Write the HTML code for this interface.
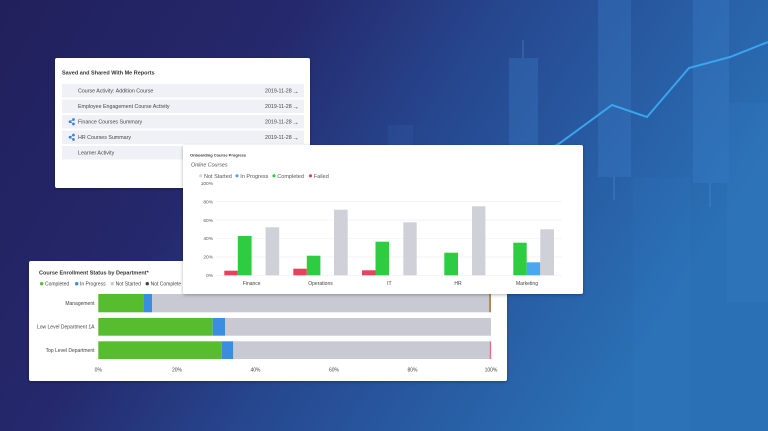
<!DOCTYPE html>
<html><head><meta charset="utf-8">
<style>
html,body{margin:0;padding:0;width:768px;height:431px;overflow:hidden;background:#24246a;}
svg{display:block;font-family:"Liberation Sans",sans-serif;}
</style></head>
<body>
<svg width="768" height="431" viewBox="0 0 768 431" xmlns="http://www.w3.org/2000/svg">
<defs>
<linearGradient id="bg" x1="0" y1="0" x2="1" y2="0.35">
<stop offset="0" stop-color="#21205c"/>
<stop offset="0.35" stop-color="#25286c"/>
<stop offset="0.6" stop-color="#264890"/>
<stop offset="0.8" stop-color="#285ca3"/>
<stop offset="1" stop-color="#2a70b4"/>
</linearGradient>
<filter id="sh" x="-5%" y="-5%" width="110%" height="115%">
<feDropShadow dx="0" dy="1" stdDeviation="1.5" flood-color="#000" flood-opacity="0.3"/>
</filter>
</defs>
<rect width="768" height="431" fill="url(#bg)"/>
<!-- background candles -->
<g fill="#3f86d0" opacity="0.28">
<rect x="388" y="125" width="25" height="30" opacity="0.4"/>
<rect x="509" y="58" width="29" height="150"/>
<rect x="598" y="0" width="33" height="177"/>
<rect x="693" y="0" width="36" height="183"/>
<rect x="727" y="103" width="41" height="200" opacity="0.5"/>
<rect x="633" y="177" width="57" height="254" opacity="0.3"/>
</g>
<g stroke="#4a8fd8" stroke-width="1.2" opacity="0.5">
<line x1="523" y1="40" x2="523" y2="58"/>
<line x1="614" y1="177" x2="614" y2="200"/>
<line x1="710" y1="183" x2="710" y2="207"/>
</g>
<polyline points="545,152 560,143 612,105 647,117 689,68 730,57 768,42" fill="none" stroke="#3aa4ec" stroke-width="2"/>

<!-- Card 1 -->
<g filter="url(#sh)"><rect x="55" y="58" width="255" height="130" rx="2" fill="#fff"/></g>
<text x="62" y="74.5" font-size="5.5" font-weight="bold" fill="#333">Saved and Shared With Me Reports</text>
<g fill="#f0f1f6">
<rect x="62" y="84" width="242" height="13.5"/>
<rect x="62" y="99.5" width="242" height="13.5"/>
<rect x="62" y="115" width="242" height="13.5"/>
<rect x="62" y="130.5" width="242" height="13.5"/>
<rect x="62" y="146" width="242" height="13.5"/>
</g>
<g font-size="5.3" fill="#444">
<text x="78" y="92.7">Course Activity: Addition Course</text>
<text x="78" y="108.2">Employee Engagement Course Activity</text>
<text x="78" y="123.7">Finance Courses Summary</text>
<text x="78" y="139.2">HR Courses Summary</text>
<text x="78" y="154.7">Learner Activity</text>
<text x="265" y="92.7">2019-11-28</text>
<text x="265" y="108.2">2019-11-28</text>
<text x="265" y="123.7">2019-11-28</text>
<text x="265" y="139.2">2019-11-28</text>
</g>
<g font-size="7" fill="#444">
<text x="292" y="93.3">→</text>
<text x="292" y="108.8">→</text>
<text x="292" y="124.3">→</text>
<text x="292" y="139.8">→</text>
</g>
<g stroke="#3b7fd8" stroke-width="0.7" fill="#3b7fd8">
<line x1="70" y1="121.7" x2="73.5" y2="119.5"/><line x1="70" y1="121.7" x2="73.5" y2="124"/>
<circle cx="70" cy="121.7" r="1"/><circle cx="73.5" cy="119.5" r="1"/><circle cx="73.5" cy="124" r="1"/>
<line x1="70" y1="137.2" x2="73.5" y2="135"/><line x1="70" y1="137.2" x2="73.5" y2="139.5"/>
<circle cx="70" cy="137.2" r="1"/><circle cx="73.5" cy="135" r="1"/><circle cx="73.5" cy="139.5" r="1"/>
</g>

<!-- Card 3 -->
<g filter="url(#sh)"><rect x="29" y="261" width="478" height="120" rx="2" fill="#fff"/></g>
<text x="39" y="274.5" font-size="5.5" font-weight="bold" fill="#333">Course Enrollment Status by Department*</text>
<circle cx="41.7" cy="283.7" r="1.7" fill="#57bd2f"/>
<circle cx="76.7" cy="283.7" r="1.7" fill="#3b8de0"/>
<circle cx="112.3" cy="283.7" r="1.7" fill="#c8c9d2"/>
<circle cx="147.3" cy="283.7" r="1.7" fill="#444"/>
<g font-size="5" fill="#444">
<text x="45" y="285.6">Completed</text>
<text x="80" y="285.6">In Progress</text>
<text x="115.6" y="285.6">Not Started</text>
<text x="150.6" y="285.6">Not Complete</text>
</g>
<rect x="98.3" y="294" width="45" height="18.3" fill="#57bd2f"/>
<rect x="143.3" y="294" width="8.7" height="18.3" fill="#3b8de0"/>
<rect x="152" y="294" width="337" height="18.3" fill="#c8c9d2"/>
<rect x="489" y="294" width="2" height="18.3" fill="#b8894a"/>
<rect x="98.3" y="318" width="114.4" height="17.7" fill="#57bd2f"/>
<rect x="212.7" y="318" width="12.3" height="17.7" fill="#3b8de0"/>
<rect x="225" y="318" width="266" height="17.7" fill="#c8c9d2"/>
<rect x="98.3" y="341.3" width="123.4" height="17.7" fill="#57bd2f"/>
<rect x="221.7" y="341.3" width="11.6" height="17.7" fill="#3b8de0"/>
<rect x="233.3" y="341.3" width="256.4" height="17.7" fill="#c8c9d2"/>
<rect x="489.7" y="341.3" width="1.5" height="17.7" fill="#e07090"/>
<g font-size="5" fill="#444" text-anchor="end">
<text x="94.5" y="304.8">Management</text>
<text x="94.5" y="328.5">Low Level Department 1A</text>
<text x="94.5" y="351.8">Top Level Department</text>
</g>
<g font-size="5" fill="#444" text-anchor="middle">
<text x="98.3" y="371.5">0%</text>
<text x="177" y="371.5">20%</text>
<text x="255.5" y="371.5">40%</text>
<text x="334" y="371.5">60%</text>
<text x="412.5" y="371.5">80%</text>
<text x="491" y="371.5">100%</text>
</g>

<!-- Card 2 -->
<g filter="url(#sh)"><rect x="183" y="145" width="400" height="149" rx="2" fill="#fff"/></g>
<text x="190" y="156.5" font-size="4" font-weight="bold" fill="#333">Onboarding Course Progress</text>
<text x="191" y="166.5" font-size="5.3" font-style="italic" fill="#555">Online Courses</text>
<circle cx="200.7" cy="175.8" r="1.6" fill="#d4d4da"/>
<circle cx="237" cy="175.8" r="1.6" fill="#4aa8f0"/>
<circle cx="274" cy="175.8" r="1.6" fill="#2ecc40"/>
<circle cx="310.5" cy="175.8" r="1.6" fill="#e8415e"/>
<g font-size="5.5" fill="#555">
<text x="204" y="177.8">Not Started</text>
<text x="240.3" y="177.8">In Progress</text>
<text x="277.3" y="177.8">Completed</text>
<text x="313.8" y="177.8">Failed</text>
</g>
<g stroke="#eeeef2" stroke-width="0.6">
<line x1="216" y1="201.7" x2="562" y2="201.7"/>
<line x1="216" y1="220.1" x2="562" y2="220.1"/>
<line x1="216" y1="238.5" x2="562" y2="238.5"/>
<line x1="216" y1="256.9" x2="562" y2="256.9"/>
<line x1="216" y1="275.3" x2="562" y2="275.3"/>
</g>
<g font-size="4.8" fill="#555" text-anchor="end">
<text x="213" y="185">100%</text>
<text x="213" y="203.4">80%</text>
<text x="213" y="221.8">60%</text>
<text x="213" y="240.2">40%</text>
<text x="213" y="258.6">20%</text>
<text x="213" y="277">0%</text>
</g>
<!-- Finance -->
<rect x="224.3" y="270.7" width="13.5" height="4.6" fill="#e8415e"/>
<rect x="237.8" y="236" width="13.8" height="39.3" fill="#2ecc40"/>
<rect x="265.6" y="227.3" width="13.6" height="48" fill="#d0d0d8"/>
<!-- Operations -->
<rect x="293.3" y="268.7" width="13.5" height="6.6" fill="#e8415e"/>
<rect x="306.8" y="255.7" width="13.6" height="19.6" fill="#2ecc40"/>
<rect x="334" y="209.7" width="13.7" height="65.6" fill="#d0d0d8"/>
<!-- IT -->
<rect x="362" y="270.3" width="13.5" height="5" fill="#e8415e"/>
<rect x="375.5" y="241.7" width="13.5" height="33.6" fill="#2ecc40"/>
<rect x="403.3" y="222.3" width="13.4" height="53" fill="#d0d0d8"/>
<!-- HR -->
<rect x="444.3" y="252.7" width="13.7" height="22.6" fill="#2ecc40"/>
<rect x="472" y="206.3" width="13.4" height="69" fill="#d0d0d8"/>
<!-- Marketing -->
<rect x="513.3" y="242.7" width="13.4" height="32.6" fill="#2ecc40"/>
<rect x="526.7" y="262.3" width="13.6" height="13" fill="#4aa8f0"/>
<rect x="540.3" y="229.3" width="13.7" height="46" fill="#d0d0d8"/>
<g font-size="5" fill="#444" text-anchor="middle">
<text x="251.7" y="284.8">Finance</text>
<text x="320.5" y="284.8">Operations</text>
<text x="389.3" y="284.8">IT</text>
<text x="458" y="284.8">HR</text>
<text x="527" y="284.8">Marketing</text>
</g>
</svg>
</body></html>
